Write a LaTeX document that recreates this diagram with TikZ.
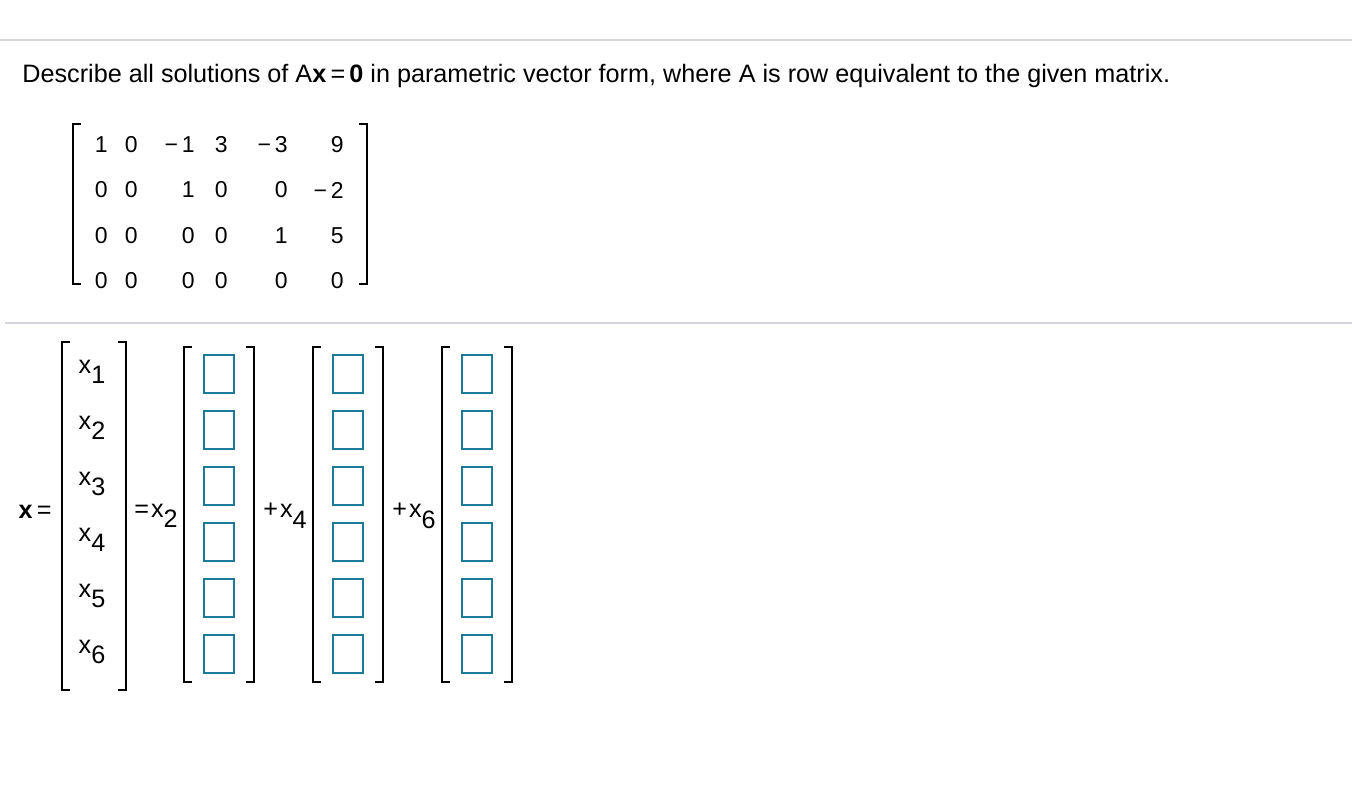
\documentclass[tikz,border=0pt]{standalone}
\usepackage{fontspec}
\setmainfont{Liberation Sans}
\definecolor{boxc}{HTML}{1E7B98}
\definecolor{rule}{HTML}{D4D4DC}
\begin{document}
\begin{tikzpicture}[x=0.5pt,y=-0.5pt,
  txt/.style={inner sep=0pt,font=\fontsize{12.6pt}{14pt}\selectfont},
  ent/.style={txt,anchor=east,font=\fontsize{11.5pt}{13pt}\selectfont},
  ansbox/.style={draw=boxc,line width=1pt,minimum width=15pt,minimum height=19pt,inner sep=0pt},
  brk/.style={line width=1pt}]
\useasboundingbox (0,0) rectangle (1352,806);
\draw[rule,line width=0.8pt] (0,40) -- (1352,40);
\draw[rule,line width=0.8pt] (5,323) -- (1352,323);
\node[txt,anchor=base west] (title) at (22,83) {Describe all solutions of A\textbf{x}\,=\,\textbf{0} in parametric vector form, where A is row equivalent to the given matrix.};
% matrix brackets
\draw[brk] (81,124) -- (73,124) -- (73,284) -- (81,284);
\draw[brk] (359,124) -- (367,124) -- (367,284) -- (359,284);
\foreach \r [count=\i] in {{1,0,{−\,1},3,{−\,3},9},{0,0,1,0,0,{−\,2}},{0,0,0,0,1,5},{0,0,0,0,0,0}}{
  \foreach \v [count=\j] in \r {
    \pgfmathsetmacro{\xx}{{108,138,195,228,288,344}[\j-1]}
    \pgfmathsetmacro{\yy}{{145,190,236,281}[\i-1]}
    \node[ent] (m\i\j) at (\xx,\yy) {\v};
  }
}
% x vector
\node[txt,anchor=east] (xeq) at (52,512) {\textbf{x}\,=};
\draw[brk] (70,342) -- (62,342) -- (62,690) -- (70,690);
\draw[brk] (118,342) -- (126,342) -- (126,690) -- (118,690);
\foreach \k in {1,...,6}{
  \node[txt] (xv\k) at (92,{372+56*(\k-1)}) {x\raisebox{-0.8ex}{\k}};
}
\node[txt,anchor=west] (eqx2) at (134,516) {=\kern1pt x\raisebox{-0.8ex}{2}};
\node[txt,anchor=west] (px4) at (263,516) {+\kern1pt x\raisebox{-0.8ex}{4}};
\node[txt,anchor=west] (px6) at (392,516) {+\kern1pt x\raisebox{-0.8ex}{6}};
\foreach \L/\n in {184/a,313/b,442/c}{
  \draw[brk] (\L+8,347) -- (\L,347) -- (\L,682) -- (\L+8,682);
  \draw[brk] (\L+62,347) -- (\L+70,347) -- (\L+70,682) -- (\L+62,682);
  \foreach \k in {1,...,6}{
    \node[ansbox] (\n\k) at (\L+35,{374+56*(\k-1)}) {};
  }
}
\end{tikzpicture}
\end{document}
